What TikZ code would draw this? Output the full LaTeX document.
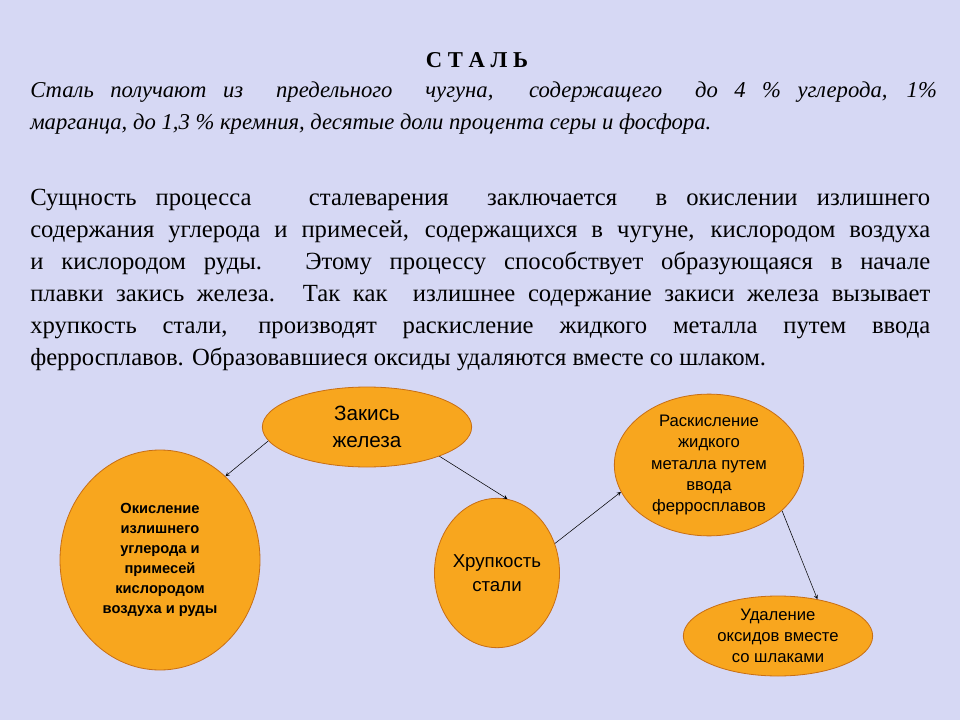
\documentclass[tikz,border=0pt]{standalone}
\usepackage{fontspec}
\setmainfont{Liberation Serif}
\newfontfamily\arialf{Liberation Sans}
\usetikzlibrary{shapes.geometric}
\definecolor{bgcol}{RGB}{214,216,244}
\definecolor{orfill}{RGB}{248,166,30}
\definecolor{ordraw}{RGB}{200,110,20}
\tikzset{
  oval/.style={ellipse, fill=orfill, draw=ordraw, line width=0.6pt, inner sep=0pt, align=center},
  link/.style={->, >=stealth, thin, black}
}
\begin{document}
\begin{tikzpicture}[x=0.75pt,y=-0.75pt]
\fill[bgcol] (0,0) rectangle (960,720);
% title and text
\node[font=\fontsize{17}{20}\selectfont\bfseries] (title) at (477,60) {С Т А Л Ь};
\node[anchor=north west, text width=680pt, align=justify, inner sep=0pt,
  font=\fontsize{17}{24}\selectfont\itshape] (intro) at (30,82)
  {Сталь получают из \ предельного \ чугуна, \ содержащего \ до 4 \% углерода, 1\%\linebreak марганца, до 1,3 \% кремния, десятые доли процента серы и фосфора.};
\node[anchor=north west, text width=675pt, align=justify, inner sep=0pt,
  font=\fontsize{18.5}{24}\selectfont] (body) at (30,189)
  {Сущность процесса \ \ сталеварения \ заключается \ в окислении излишнего\linebreak содержания углерода и примесей, содержащихся в чугуне, кислородом воздуха\linebreak и кислородом руды. Этому процессу способствует образующаяся в начале\linebreak плавки закись железа. Так как \ излишнее содержание закиси железа вызывает\linebreak хрупкость стали, производят раскисление жидкого металла путем ввода\linebreak ферросплавов. Образовавшиеся оксиды удаляются вместе со шлаком.};
% ovals
\node[oval, minimum width=157pt, minimum height=60pt, font=\arialf\fontsize{15.5}{20}\selectfont] (zak) at (367,427) {Закись\\железа};
\node[oval, minimum width=150pt, minimum height=165pt, font=\arialf\bfseries\fontsize{11}{15}\selectfont] (okis) at (160,560) {Окисление\\излишнего\\углерода и\\примесей\\кислородом\\воздуха и руды};
\node[oval, minimum width=93pt, minimum height=112pt, font=\arialf\fontsize{14}{18}\selectfont] (hrup) at (497,573) {Хрупкость\\стали};
\node[oval, minimum width=142pt, minimum height=105pt, font=\arialf\fontsize{12.5}{16}\selectfont] (rask) at (709,465) {Раскисление\\жидкого\\металла путем\\ввода\\ферросплавов};
\node[oval, minimum width=142pt, minimum height=60pt, font=\arialf\fontsize{12.5}{16}\selectfont] (udal) at (778,636) {Удаление\\оксидов вместе\\со шлаками};
% links
\draw[link] (zak.188) -- (okis.52);
\draw[link] (zak.-22) -- (hrup.82);
\draw[link] (hrup.27) -- (rask.197);
\draw[link] (rask.-32) -- (udal.43);
\end{tikzpicture}
\end{document}
